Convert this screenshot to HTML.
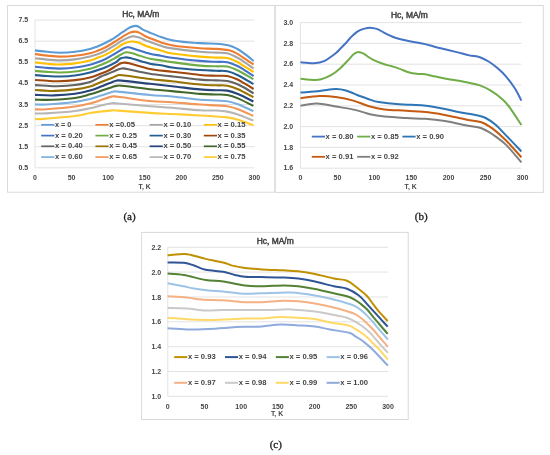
<!DOCTYPE html><html><head><meta charset="utf-8"><style>html,body{margin:0;padding:0;background:#fff;}svg{display:block;will-change:transform;filter:blur(0.45px);}text{font-family:"Liberation Sans",sans-serif;}</style></head><body>
<svg width="550" height="455" viewBox="0 0 550 455">
<rect width="550" height="455" fill="#fff"/>
<rect x="7.5" y="5.5" width="267.3" height="186.7" fill="#fff" stroke="#d9d9d9" stroke-width="1"/>
<line x1="35.0" y1="20.1" x2="254.4" y2="20.1" stroke="#e0e0e0" stroke-width="0.9"/>
<line x1="35.0" y1="41.2" x2="254.4" y2="41.2" stroke="#e0e0e0" stroke-width="0.9"/>
<line x1="35.0" y1="62.3" x2="254.4" y2="62.3" stroke="#e0e0e0" stroke-width="0.9"/>
<line x1="35.0" y1="83.4" x2="254.4" y2="83.4" stroke="#e0e0e0" stroke-width="0.9"/>
<line x1="35.0" y1="104.5" x2="254.4" y2="104.5" stroke="#e0e0e0" stroke-width="0.9"/>
<line x1="35.0" y1="125.6" x2="254.4" y2="125.6" stroke="#e0e0e0" stroke-width="0.9"/>
<line x1="35.0" y1="146.7" x2="254.4" y2="146.7" stroke="#e0e0e0" stroke-width="0.9"/>
<line x1="35.0" y1="167.8" x2="254.4" y2="167.8" stroke="#e0e0e0" stroke-width="0.9"/>
<line x1="35.0" y1="20.1" x2="35.0" y2="167.8" stroke="#e0e0e0" stroke-width="0.9"/>
<text x="28.2" y="22.1" font-size="7.00" text-anchor="end" fill="#444444" font-weight="bold">7.5</text>
<text x="28.2" y="43.2" font-size="7.00" text-anchor="end" fill="#444444" font-weight="bold">6.5</text>
<text x="28.2" y="64.3" font-size="7.00" text-anchor="end" fill="#444444" font-weight="bold">5.5</text>
<text x="28.2" y="85.4" font-size="7.00" text-anchor="end" fill="#444444" font-weight="bold">4.5</text>
<text x="28.2" y="106.5" font-size="7.00" text-anchor="end" fill="#444444" font-weight="bold">3.5</text>
<text x="28.2" y="127.6" font-size="7.00" text-anchor="end" fill="#444444" font-weight="bold">2.5</text>
<text x="28.2" y="148.7" font-size="7.00" text-anchor="end" fill="#444444" font-weight="bold">1.5</text>
<text x="28.2" y="169.8" font-size="7.00" text-anchor="end" fill="#444444" font-weight="bold">0.5</text>
<text x="35.0" y="180.0" font-size="7.00" text-anchor="middle" fill="#444444" font-weight="bold">0</text>
<text x="71.6" y="180.0" font-size="7.00" text-anchor="middle" fill="#444444" font-weight="bold">50</text>
<text x="108.1" y="180.0" font-size="7.00" text-anchor="middle" fill="#444444" font-weight="bold">100</text>
<text x="144.7" y="180.0" font-size="7.00" text-anchor="middle" fill="#444444" font-weight="bold">150</text>
<text x="181.3" y="180.0" font-size="7.00" text-anchor="middle" fill="#444444" font-weight="bold">200</text>
<text x="217.8" y="180.0" font-size="7.00" text-anchor="middle" fill="#444444" font-weight="bold">250</text>
<text x="254.4" y="180.0" font-size="7.00" text-anchor="middle" fill="#444444" font-weight="bold">300</text>
<text x="144.6" y="188.7" font-size="7.60" text-anchor="middle" fill="#444444" font-weight="bold" textLength="12.2" lengthAdjust="spacingAndGlyphs">T, K</text>
<text x="140.8" y="16.6" font-size="8.60" text-anchor="middle" fill="#444444" font-weight="normal" textLength="37.0" lengthAdjust="spacingAndGlyphs" stroke="#444444" stroke-width="0.50">Hc, MA/m</text>
<path d="M35.0 50.4 C37.0 50.6 42.8 51.4 47.0 51.8 C51.2 52.2 55.3 52.7 60.0 52.7 C64.7 52.7 70.0 52.4 75.0 51.8 C80.0 51.2 86.4 49.8 90.0 48.9 C93.6 48.0 94.2 47.7 96.8 46.7 C99.4 45.7 102.7 44.3 105.6 42.8 C108.5 41.3 111.6 39.7 114.4 37.9 C117.2 36.1 119.9 33.9 122.5 32.2 C125.1 30.5 127.6 28.6 129.8 27.5 C132.0 26.4 134.0 26.0 135.6 25.9 C137.2 25.8 138.1 26.5 139.3 27.1 C140.5 27.7 141.5 28.8 142.9 29.6 C144.3 30.4 146.8 31.3 148.0 31.8 C149.2 32.3 147.8 31.8 150.0 32.7 C152.2 33.6 157.3 35.7 161.0 37.0 C164.7 38.3 168.3 39.5 172.0 40.3 C175.7 41.1 179.3 41.5 183.0 41.9 C186.7 42.3 190.3 42.5 194.0 42.8 C197.7 43.0 201.3 43.2 205.0 43.4 C208.7 43.6 212.0 43.5 216.0 43.8 C220.0 44.1 225.5 44.6 229.0 45.4 C232.5 46.2 234.5 47.5 237.0 48.8 C239.5 50.1 241.2 51.4 244.0 53.4 C246.8 55.4 252.0 59.7 253.6 61.0" fill="none" stroke="#5B9BD5" stroke-width="2.10" stroke-linecap="butt" stroke-linejoin="round"/>
<path d="M35.0 54.0 C37.0 54.3 42.8 55.2 47.0 55.6 C51.2 56.0 55.3 56.6 60.0 56.6 C64.7 56.6 70.0 56.3 75.0 55.7 C80.0 55.1 86.4 54.0 90.0 53.2 C93.6 52.4 94.2 52.1 96.8 51.1 C99.4 50.1 102.7 48.7 105.6 47.2 C108.5 45.7 111.6 43.7 114.4 42.0 C117.2 40.3 119.9 38.4 122.5 36.8 C125.1 35.2 127.7 33.5 129.8 32.6 C131.9 31.7 133.3 31.6 134.9 31.6 C136.5 31.6 137.7 31.9 139.3 32.6 C140.9 33.3 142.7 34.9 144.5 35.8 C146.3 36.7 147.2 37.1 150.0 38.2 C152.8 39.3 157.3 41.2 161.0 42.4 C164.7 43.6 168.3 44.5 172.0 45.2 C175.7 45.9 178.3 46.3 183.0 46.8 C187.7 47.3 194.5 47.9 200.0 48.3 C205.5 48.6 211.2 48.6 216.0 48.9 C220.8 49.2 225.5 49.5 229.0 50.3 C232.5 51.1 234.5 52.3 237.0 53.6 C239.5 54.9 241.2 56.4 244.0 58.2 C246.8 60.0 252.0 63.5 253.6 64.5" fill="none" stroke="#ED7D31" stroke-width="2.10" stroke-linecap="butt" stroke-linejoin="round"/>
<path d="M35.0 58.2 C37.0 58.4 42.8 59.2 47.0 59.6 C51.2 60.0 55.3 60.4 60.0 60.4 C64.7 60.4 70.0 60.1 75.0 59.4 C80.0 58.7 86.4 57.2 90.0 56.4 C93.6 55.6 94.2 55.5 96.8 54.6 C99.4 53.7 102.7 52.2 105.6 50.7 C108.5 49.2 111.6 47.3 114.4 45.6 C117.2 43.9 119.9 41.9 122.5 40.4 C125.1 38.9 128.0 37.6 129.8 36.9 C131.6 36.2 131.9 36.1 133.5 36.2 C135.1 36.3 137.2 36.8 139.3 37.5 C141.4 38.2 144.2 39.9 146.0 40.6 C147.8 41.4 147.5 41.1 150.0 42.0 C152.5 42.9 157.3 44.7 161.0 45.8 C164.7 46.9 165.5 47.4 172.0 48.4 C178.5 49.4 192.7 51.0 200.0 51.7 C207.3 52.4 211.4 52.4 216.0 52.6 C220.6 52.9 223.8 52.4 227.3 53.2 C230.8 54.0 234.2 56.1 237.0 57.5 C239.8 58.9 241.2 60.0 244.0 61.8 C246.8 63.6 252.0 67.4 253.6 68.5" fill="none" stroke="#A5A5A5" stroke-width="2.10" stroke-linecap="butt" stroke-linejoin="round"/>
<path d="M35.0 62.4 C37.0 62.6 43.2 63.4 47.0 63.8 C50.8 64.1 53.3 64.6 58.0 64.5 C62.7 64.4 69.7 64.1 75.0 63.4 C80.3 62.7 86.4 61.3 90.0 60.4 C93.6 59.5 94.2 59.1 96.8 58.1 C99.4 57.1 102.7 56.0 105.6 54.6 C108.5 53.2 111.4 51.4 114.4 49.6 C117.4 47.8 120.6 45.1 123.4 43.8 C126.2 42.4 129.0 41.8 131.3 41.5 C133.7 41.2 135.1 41.6 137.5 42.3 C139.9 43.0 143.9 45.1 146.0 45.9 C148.1 46.7 147.5 46.4 150.0 47.2 C152.5 48.0 157.3 49.5 161.0 50.5 C164.7 51.5 165.5 52.5 172.0 53.5 C178.5 54.5 192.7 55.9 200.0 56.6 C207.3 57.3 211.4 57.4 216.0 57.6 C220.6 57.8 223.8 57.3 227.3 58.0 C230.8 58.7 234.2 60.4 237.0 61.8 C239.8 63.2 241.2 64.5 244.0 66.2 C246.8 67.9 252.0 71.0 253.6 72.0" fill="none" stroke="#FFC000" stroke-width="2.10" stroke-linecap="butt" stroke-linejoin="round"/>
<path d="M35.0 66.7 C37.0 66.9 42.8 67.6 47.0 67.9 C51.2 68.2 55.3 68.7 60.0 68.6 C64.7 68.5 70.0 68.2 75.0 67.5 C80.0 66.8 86.4 65.5 90.0 64.7 C93.6 63.9 94.2 63.5 96.8 62.5 C99.4 61.5 102.7 60.4 105.6 59.0 C108.5 57.6 111.4 55.8 114.4 54.0 C117.4 52.2 121.1 49.6 123.4 48.5 C125.8 47.4 126.4 47.1 128.5 47.3 C130.6 47.5 132.4 48.4 136.0 49.5 C139.6 50.6 145.8 52.8 150.0 53.8 C154.2 54.8 157.3 55.1 161.0 55.8 C164.7 56.4 165.5 56.9 172.0 57.7 C178.5 58.6 192.7 60.2 200.0 60.9 C207.3 61.6 211.4 61.6 216.0 61.8 C220.6 62.0 223.8 61.5 227.3 62.2 C230.8 62.9 234.2 64.5 237.0 65.8 C239.8 67.1 241.2 68.1 244.0 69.8 C246.8 71.5 252.0 75.0 253.6 76.0" fill="none" stroke="#4472C4" stroke-width="2.10" stroke-linecap="butt" stroke-linejoin="round"/>
<path d="M35.0 70.9 C37.0 71.1 42.8 71.6 47.0 71.9 C51.2 72.2 55.3 72.6 60.0 72.5 C64.7 72.4 70.0 72.1 75.0 71.5 C80.0 70.9 86.4 69.5 90.0 68.7 C93.6 67.9 94.2 67.5 96.8 66.5 C99.4 65.5 102.7 64.3 105.6 63.0 C108.5 61.6 111.4 60.0 114.4 58.4 C117.4 56.8 121.2 54.1 123.4 53.1 C125.6 52.1 125.4 52.1 127.5 52.3 C129.6 52.5 132.2 53.3 136.0 54.4 C139.8 55.5 145.8 57.8 150.0 58.8 C154.2 59.8 157.3 59.8 161.0 60.4 C164.7 61.0 165.5 61.2 172.0 62.1 C178.5 63.0 192.7 64.9 200.0 65.6 C207.3 66.3 211.4 66.2 216.0 66.3 C220.6 66.5 223.6 65.8 227.3 66.5 C231.0 67.2 233.7 68.4 238.0 70.5 C242.3 72.6 250.8 77.8 253.4 79.2" fill="none" stroke="#70AD47" stroke-width="2.10" stroke-linecap="butt" stroke-linejoin="round"/>
<path d="M35.0 75.1 C37.0 75.2 42.8 75.8 47.0 76.0 C51.2 76.2 55.3 76.6 60.0 76.5 C64.7 76.4 70.0 76.2 75.0 75.5 C80.0 74.8 85.7 73.6 90.0 72.5 C94.3 71.4 98.0 70.0 101.0 69.0 C104.0 68.0 105.5 67.3 108.0 66.2 C110.5 65.1 113.7 63.7 115.7 62.4 C117.8 61.1 118.8 59.3 120.3 58.5 C121.8 57.7 123.4 57.6 125.0 57.5 C126.6 57.4 125.8 57.0 130.0 58.0 C134.2 59.0 144.8 62.6 150.0 63.8 C155.2 65.0 157.3 64.6 161.0 65.2 C164.7 65.8 165.5 66.7 172.0 67.5 C178.5 68.3 192.7 69.5 200.0 70.0 C207.3 70.5 211.4 70.6 216.0 70.8 C220.6 71.0 223.6 70.5 227.3 71.2 C231.0 71.9 233.7 73.1 238.0 75.2 C242.3 77.3 250.8 82.6 253.4 84.1" fill="none" stroke="#255E91" stroke-width="2.10" stroke-linecap="butt" stroke-linejoin="round"/>
<path d="M35.0 80.0 C37.0 80.1 43.2 80.6 47.0 80.8 C50.8 81.0 53.3 81.3 58.0 81.2 C62.7 81.1 69.7 80.7 75.0 80.1 C80.3 79.5 85.7 78.6 90.0 77.5 C94.3 76.4 98.0 74.6 101.0 73.5 C104.0 72.4 105.5 72.0 108.0 70.8 C110.5 69.6 113.7 67.4 115.7 66.2 C117.8 65.0 119.0 64.1 120.3 63.5 C121.6 62.9 122.0 62.7 123.5 62.7 C125.0 62.7 124.6 62.2 129.0 63.3 C133.4 64.3 142.8 67.6 150.0 69.0 C157.2 70.4 163.7 70.7 172.0 71.7 C180.3 72.7 192.7 74.3 200.0 75.0 C207.3 75.7 211.4 75.5 216.0 75.7 C220.6 75.9 223.8 75.4 227.3 76.0 C230.8 76.6 234.2 78.0 237.0 79.2 C239.8 80.4 241.2 81.6 244.0 83.2 C246.8 84.8 252.0 88.0 253.6 89.0" fill="none" stroke="#9E480E" stroke-width="2.10" stroke-linecap="butt" stroke-linejoin="round"/>
<path d="M35.0 85.1 C37.0 85.2 43.3 85.6 47.0 85.8 C50.7 86.0 52.3 86.3 57.0 86.2 C61.7 86.1 69.5 85.7 75.0 85.0 C80.5 84.3 85.7 83.4 90.0 82.0 C94.3 80.6 98.0 77.9 101.0 76.5 C104.0 75.1 105.5 74.8 108.0 73.8 C110.5 72.8 113.4 71.3 115.7 70.4 C118.0 69.5 120.1 68.7 122.0 68.5 C123.9 68.3 122.3 68.1 127.0 69.0 C131.7 69.9 142.5 72.6 150.0 73.8 C157.5 75.0 163.7 75.4 172.0 76.4 C180.3 77.4 192.7 78.9 200.0 79.6 C207.3 80.3 211.4 80.2 216.0 80.4 C220.6 80.6 223.8 80.4 227.3 81.0 C230.8 81.6 234.2 82.9 237.0 84.0 C239.8 85.1 241.2 85.9 244.0 87.5 C246.8 89.1 252.0 92.4 253.6 93.4" fill="none" stroke="#636363" stroke-width="2.10" stroke-linecap="butt" stroke-linejoin="round"/>
<path d="M35.0 90.0 C36.7 90.1 41.7 90.4 45.0 90.6 C48.3 90.8 50.0 91.1 55.0 90.9 C60.0 90.7 69.2 90.1 75.0 89.4 C80.8 88.7 85.7 87.7 90.0 86.5 C94.3 85.3 97.4 83.4 101.0 82.0 C104.6 80.6 109.1 79.1 111.8 78.0 C114.5 76.9 115.5 75.9 117.3 75.4 C119.1 74.9 117.2 74.6 122.7 75.2 C128.2 75.8 141.8 78.0 150.0 79.0 C158.2 80.0 163.7 80.4 172.0 81.3 C180.3 82.2 192.7 83.8 200.0 84.5 C207.3 85.2 211.4 85.1 216.0 85.3 C220.6 85.5 223.6 85.0 227.3 85.7 C231.0 86.4 233.7 87.4 238.0 89.3 C242.3 91.2 250.8 95.9 253.4 97.2" fill="none" stroke="#997300" stroke-width="2.10" stroke-linecap="butt" stroke-linejoin="round"/>
<path d="M35.0 94.9 C38.2 95.0 47.3 95.6 54.0 95.4 C60.7 95.2 69.0 94.6 75.0 93.8 C81.0 93.0 85.7 91.8 90.0 90.6 C94.3 89.4 97.4 87.9 101.0 86.5 C104.6 85.1 109.3 83.2 111.8 82.3 C114.3 81.3 114.6 81.1 116.2 80.8 C117.8 80.5 116.0 80.1 121.6 80.6 C127.2 81.1 141.6 82.9 150.0 83.8 C158.4 84.7 163.7 85.3 172.0 86.2 C180.3 87.1 192.7 88.7 200.0 89.4 C207.3 90.1 211.4 90.0 216.0 90.2 C220.6 90.4 223.6 90.0 227.3 90.6 C231.0 91.2 233.7 92.2 238.0 94.0 C242.3 95.8 250.8 100.2 253.4 101.5" fill="none" stroke="#264478" stroke-width="2.10" stroke-linecap="butt" stroke-linejoin="round"/>
<path d="M35.0 99.6 C37.8 99.6 45.3 100.1 52.0 99.8 C58.7 99.5 68.7 98.9 75.0 98.0 C81.3 97.1 85.7 95.5 90.0 94.3 C94.3 93.1 97.4 92.0 101.0 90.8 C104.6 89.6 109.3 88.0 111.8 87.2 C114.3 86.4 114.5 86.1 116.2 85.9 C117.9 85.7 116.4 85.2 122.0 85.8 C127.6 86.3 141.7 88.3 150.0 89.2 C158.3 90.1 163.7 90.3 172.0 91.1 C180.3 91.9 192.7 93.3 200.0 93.9 C207.3 94.5 211.4 94.3 216.0 94.5 C220.6 94.7 223.6 94.3 227.3 95.0 C231.0 95.7 233.7 96.6 238.0 98.4 C242.3 100.2 250.8 104.7 253.4 105.9" fill="none" stroke="#43682B" stroke-width="2.10" stroke-linecap="butt" stroke-linejoin="round"/>
<path d="M35.0 104.4 C36.8 104.4 39.3 104.9 46.0 104.5 C52.7 104.1 67.7 102.9 75.0 102.0 C82.3 101.1 85.7 100.1 90.0 99.0 C94.3 97.9 97.2 96.7 101.0 95.5 C104.8 94.3 110.1 92.5 112.9 91.8 C115.7 91.1 111.8 91.1 118.0 91.6 C124.2 92.1 141.0 94.2 150.0 95.0 C159.0 95.8 163.7 95.7 172.0 96.5 C180.3 97.3 192.7 99.0 200.0 99.7 C207.3 100.4 211.4 100.2 216.0 100.5 C220.6 100.8 223.6 100.6 227.3 101.2 C231.0 101.8 233.7 102.7 238.0 104.3 C242.3 105.9 250.8 110.0 253.4 111.1" fill="none" stroke="#7CAFDD" stroke-width="2.10" stroke-linecap="butt" stroke-linejoin="round"/>
<path d="M35.0 109.3 C36.8 109.3 39.3 109.8 46.0 109.3 C52.7 108.8 67.7 107.5 75.0 106.5 C82.3 105.5 85.7 104.6 90.0 103.5 C94.3 102.4 97.4 101.2 101.0 100.0 C104.6 98.8 109.0 97.1 111.8 96.6 C114.6 96.1 111.6 96.1 118.0 96.8 C124.4 97.5 141.0 100.1 150.0 101.0 C159.0 101.9 163.7 101.6 172.0 102.2 C180.3 102.8 192.7 104.0 200.0 104.5 C207.3 105.0 211.4 105.1 216.0 105.4 C220.6 105.7 223.6 105.6 227.3 106.2 C231.0 106.8 233.7 107.6 238.0 109.2 C242.3 110.8 250.8 114.8 253.4 115.9" fill="none" stroke="#F1975A" stroke-width="2.10" stroke-linecap="butt" stroke-linejoin="round"/>
<path d="M35.0 113.4 C36.8 113.4 39.3 113.8 46.0 113.4 C52.7 113.0 67.7 111.9 75.0 111.0 C82.3 110.1 85.7 109.1 90.0 108.2 C94.3 107.3 97.4 106.3 101.0 105.5 C104.6 104.7 109.0 103.6 111.8 103.3 C114.6 103.0 111.6 103.0 118.0 103.5 C124.4 104.0 141.0 105.5 150.0 106.2 C159.0 106.9 163.7 107.1 172.0 107.8 C180.3 108.5 192.7 109.8 200.0 110.3 C207.3 110.8 211.4 110.3 216.0 110.5 C220.6 110.7 223.6 110.9 227.3 111.6 C231.0 112.3 233.7 113.0 238.0 114.5 C242.3 116.0 250.8 119.6 253.4 120.6" fill="none" stroke="#B7B7B7" stroke-width="2.10" stroke-linecap="butt" stroke-linejoin="round"/>
<path d="M35.0 118.9 C36.3 118.9 36.3 119.4 43.0 118.9 C49.7 118.4 67.2 117.0 75.0 116.0 C82.8 115.0 85.7 113.8 90.0 113.0 C94.3 112.2 97.4 111.9 101.0 111.5 C104.6 111.1 109.0 110.6 111.8 110.4 C114.6 110.2 111.6 110.2 118.0 110.6 C124.4 111.0 141.0 112.3 150.0 112.9 C159.0 113.5 163.7 113.6 172.0 114.0 C180.3 114.4 192.7 115.1 200.0 115.5 C207.3 115.9 211.4 116.2 216.0 116.5 C220.6 116.8 223.6 116.9 227.3 117.4 C231.0 118.0 233.7 118.5 238.0 119.8 C242.3 121.1 250.8 124.4 253.4 125.3" fill="none" stroke="#FFCD33" stroke-width="2.10" stroke-linecap="butt" stroke-linejoin="round"/>
<line x1="41.2" y1="124.8" x2="54.4" y2="124.8" stroke="#5B9BD5" stroke-width="1.70"/>
<text x="55.0" y="126.8" font-size="7.80" text-anchor="start" fill="#444444" font-weight="bold" textLength="16.4" lengthAdjust="spacingAndGlyphs">x = 0</text>
<line x1="95.4" y1="124.8" x2="108.6" y2="124.8" stroke="#ED7D31" stroke-width="1.70"/>
<text x="109.2" y="126.8" font-size="7.80" text-anchor="start" fill="#444444" font-weight="bold" textLength="25.8" lengthAdjust="spacingAndGlyphs">x =0.05</text>
<line x1="149.6" y1="124.8" x2="162.8" y2="124.8" stroke="#A5A5A5" stroke-width="1.70"/>
<text x="163.4" y="126.8" font-size="7.80" text-anchor="start" fill="#444444" font-weight="bold" textLength="27.8" lengthAdjust="spacingAndGlyphs">x = 0.10</text>
<line x1="203.8" y1="124.8" x2="217.0" y2="124.8" stroke="#FFC000" stroke-width="1.70"/>
<text x="217.6" y="126.8" font-size="7.80" text-anchor="start" fill="#444444" font-weight="bold" textLength="27.8" lengthAdjust="spacingAndGlyphs">x = 0.15</text>
<line x1="41.2" y1="135.6" x2="54.4" y2="135.6" stroke="#4472C4" stroke-width="1.70"/>
<text x="55.0" y="137.6" font-size="7.80" text-anchor="start" fill="#444444" font-weight="bold" textLength="27.8" lengthAdjust="spacingAndGlyphs">x = 0.20</text>
<line x1="95.4" y1="135.6" x2="108.6" y2="135.6" stroke="#70AD47" stroke-width="1.70"/>
<text x="109.2" y="137.6" font-size="7.80" text-anchor="start" fill="#444444" font-weight="bold" textLength="27.8" lengthAdjust="spacingAndGlyphs">x = 0.25</text>
<line x1="149.6" y1="135.6" x2="162.8" y2="135.6" stroke="#255E91" stroke-width="1.70"/>
<text x="163.4" y="137.6" font-size="7.80" text-anchor="start" fill="#444444" font-weight="bold" textLength="27.8" lengthAdjust="spacingAndGlyphs">x = 0.30</text>
<line x1="203.8" y1="135.6" x2="217.0" y2="135.6" stroke="#9E480E" stroke-width="1.70"/>
<text x="217.6" y="137.6" font-size="7.80" text-anchor="start" fill="#444444" font-weight="bold" textLength="27.8" lengthAdjust="spacingAndGlyphs">x = 0.35</text>
<line x1="41.2" y1="146.3" x2="54.4" y2="146.3" stroke="#636363" stroke-width="1.70"/>
<text x="55.0" y="148.3" font-size="7.80" text-anchor="start" fill="#444444" font-weight="bold" textLength="27.8" lengthAdjust="spacingAndGlyphs">x = 0.40</text>
<line x1="95.4" y1="146.3" x2="108.6" y2="146.3" stroke="#997300" stroke-width="1.70"/>
<text x="109.2" y="148.3" font-size="7.80" text-anchor="start" fill="#444444" font-weight="bold" textLength="27.8" lengthAdjust="spacingAndGlyphs">x = 0.45</text>
<line x1="149.6" y1="146.3" x2="162.8" y2="146.3" stroke="#264478" stroke-width="1.70"/>
<text x="163.4" y="148.3" font-size="7.80" text-anchor="start" fill="#444444" font-weight="bold" textLength="27.8" lengthAdjust="spacingAndGlyphs">x = 0.50</text>
<line x1="203.8" y1="146.3" x2="217.0" y2="146.3" stroke="#43682B" stroke-width="1.70"/>
<text x="217.6" y="148.3" font-size="7.80" text-anchor="start" fill="#444444" font-weight="bold" textLength="27.8" lengthAdjust="spacingAndGlyphs">x = 0.55</text>
<line x1="41.2" y1="157.1" x2="54.4" y2="157.1" stroke="#7CAFDD" stroke-width="1.70"/>
<text x="55.0" y="159.1" font-size="7.80" text-anchor="start" fill="#444444" font-weight="bold" textLength="27.8" lengthAdjust="spacingAndGlyphs">x = 0.60</text>
<line x1="95.4" y1="157.1" x2="108.6" y2="157.1" stroke="#F1975A" stroke-width="1.70"/>
<text x="109.2" y="159.1" font-size="7.80" text-anchor="start" fill="#444444" font-weight="bold" textLength="27.8" lengthAdjust="spacingAndGlyphs">x = 0.65</text>
<line x1="149.6" y1="157.1" x2="162.8" y2="157.1" stroke="#B7B7B7" stroke-width="1.70"/>
<text x="163.4" y="159.1" font-size="7.80" text-anchor="start" fill="#444444" font-weight="bold" textLength="27.8" lengthAdjust="spacingAndGlyphs">x = 0.70</text>
<line x1="203.8" y1="157.1" x2="217.0" y2="157.1" stroke="#FFCD33" stroke-width="1.70"/>
<text x="217.6" y="159.1" font-size="7.80" text-anchor="start" fill="#444444" font-weight="bold" textLength="27.8" lengthAdjust="spacingAndGlyphs">x = 0.75</text>
<rect x="275.3" y="5.5" width="268.0" height="186.9" fill="#fff" stroke="#d9d9d9" stroke-width="1"/>
<line x1="300.5" y1="22.6" x2="521.5" y2="22.6" stroke="#e0e0e0" stroke-width="0.9"/>
<line x1="300.5" y1="43.4" x2="521.5" y2="43.4" stroke="#e0e0e0" stroke-width="0.9"/>
<line x1="300.5" y1="64.2" x2="521.5" y2="64.2" stroke="#e0e0e0" stroke-width="0.9"/>
<line x1="300.5" y1="85.0" x2="521.5" y2="85.0" stroke="#e0e0e0" stroke-width="0.9"/>
<line x1="300.5" y1="105.8" x2="521.5" y2="105.8" stroke="#e0e0e0" stroke-width="0.9"/>
<line x1="300.5" y1="126.6" x2="521.5" y2="126.6" stroke="#e0e0e0" stroke-width="0.9"/>
<line x1="300.5" y1="147.4" x2="521.5" y2="147.4" stroke="#e0e0e0" stroke-width="0.9"/>
<line x1="300.5" y1="168.2" x2="521.5" y2="168.2" stroke="#e0e0e0" stroke-width="0.9"/>
<line x1="300.5" y1="22.6" x2="300.5" y2="168.2" stroke="#e0e0e0" stroke-width="0.9"/>
<text x="293.2" y="24.8" font-size="7.00" text-anchor="end" fill="#444444" font-weight="bold">3.0</text>
<text x="293.2" y="45.6" font-size="7.00" text-anchor="end" fill="#444444" font-weight="bold">2.8</text>
<text x="293.2" y="66.4" font-size="7.00" text-anchor="end" fill="#444444" font-weight="bold">2.6</text>
<text x="293.2" y="87.2" font-size="7.00" text-anchor="end" fill="#444444" font-weight="bold">2.4</text>
<text x="293.2" y="108.0" font-size="7.00" text-anchor="end" fill="#444444" font-weight="bold">2.2</text>
<text x="293.2" y="128.8" font-size="7.00" text-anchor="end" fill="#444444" font-weight="bold">2.0</text>
<text x="293.2" y="149.6" font-size="7.00" text-anchor="end" fill="#444444" font-weight="bold">1.8</text>
<text x="293.2" y="170.4" font-size="7.00" text-anchor="end" fill="#444444" font-weight="bold">1.6</text>
<text x="300.4" y="180.2" font-size="7.00" text-anchor="middle" fill="#444444" font-weight="bold">0</text>
<text x="337.4" y="180.2" font-size="7.00" text-anchor="middle" fill="#444444" font-weight="bold">50</text>
<text x="374.4" y="180.2" font-size="7.00" text-anchor="middle" fill="#444444" font-weight="bold">100</text>
<text x="411.4" y="180.2" font-size="7.00" text-anchor="middle" fill="#444444" font-weight="bold">150</text>
<text x="448.5" y="180.2" font-size="7.00" text-anchor="middle" fill="#444444" font-weight="bold">200</text>
<text x="485.5" y="180.2" font-size="7.00" text-anchor="middle" fill="#444444" font-weight="bold">250</text>
<text x="522.5" y="180.2" font-size="7.00" text-anchor="middle" fill="#444444" font-weight="bold">300</text>
<text x="410.7" y="188.7" font-size="7.60" text-anchor="middle" fill="#444444" font-weight="bold" textLength="12.2" lengthAdjust="spacingAndGlyphs">T, K</text>
<text x="409.4" y="18.0" font-size="8.60" text-anchor="middle" fill="#444444" font-weight="normal" textLength="37.0" lengthAdjust="spacingAndGlyphs" stroke="#444444" stroke-width="0.50">Hc, MA/m</text>
<path d="M300.5 62.3 C302.7 62.5 310.0 63.5 313.9 63.3 C317.8 63.1 320.5 62.9 324.1 61.2 C327.7 59.5 333.1 55.3 335.7 53.3 C338.3 51.3 338.3 50.7 340.0 49.0 C341.7 47.3 344.2 44.8 345.9 43.0 C347.6 41.2 348.1 40.1 350.0 38.2 C351.9 36.3 354.9 33.2 357.3 31.6 C359.7 30.0 362.1 29.2 364.5 28.6 C366.9 28.0 369.6 27.8 371.8 27.9 C374.0 28.0 375.7 28.4 377.6 29.1 C379.6 29.9 381.4 31.3 383.5 32.4 C385.6 33.5 387.9 34.7 390.0 35.6 C392.1 36.5 393.3 37.2 396.0 38.0 C398.7 38.8 403.5 39.9 406.4 40.5 C409.3 41.1 410.5 41.3 413.6 41.9 C416.8 42.5 421.7 43.2 425.3 44.1 C428.9 45.0 432.2 46.1 435.5 47.0 C438.8 47.9 441.5 48.4 445.0 49.2 C448.5 50.1 452.5 51.1 456.6 52.1 C460.7 53.1 465.8 54.5 469.7 55.4 C473.6 56.2 476.8 56.2 479.9 57.2 C483.0 58.2 485.7 59.7 488.6 61.5 C491.5 63.3 494.5 65.6 497.4 68.1 C500.3 70.6 503.2 73.2 506.1 76.6 C509.0 80.0 512.2 84.3 514.8 88.3 C517.3 92.3 520.3 98.5 521.4 100.6" fill="none" stroke="#4472C4" stroke-width="2.00" stroke-linecap="butt" stroke-linejoin="round"/>
<path d="M300.5 78.8 C302.7 79.0 310.4 79.9 313.9 80.0 C317.3 80.1 318.3 80.1 321.2 79.3 C324.1 78.5 327.9 77.0 331.0 75.2 C334.1 73.4 337.1 71.0 340.0 68.4 C342.9 65.8 346.5 61.9 348.7 59.6 C350.9 57.3 351.6 56.0 353.0 54.7 C354.4 53.5 356.1 52.5 357.4 52.1 C358.7 51.8 359.9 52.3 361.0 52.6 C362.1 52.9 362.8 53.1 364.0 53.8 C365.2 54.5 367.1 56.0 368.5 57.0 C369.9 58.0 370.2 58.4 372.7 59.6 C375.2 60.8 380.4 62.9 383.6 64.0 C386.8 65.1 389.2 65.4 391.8 66.2 C394.4 67.0 396.2 67.5 399.1 68.6 C402.0 69.6 406.2 71.6 409.3 72.5 C412.4 73.4 415.3 73.6 418.0 73.9 C420.7 74.2 422.4 73.8 425.3 74.2 C428.2 74.7 431.4 75.7 435.5 76.6 C439.6 77.5 445.3 78.7 450.0 79.5 C454.7 80.3 458.9 80.7 463.9 81.7 C468.9 82.7 475.3 83.8 479.9 85.4 C484.5 87.0 487.6 88.8 491.5 91.2 C495.4 93.6 500.0 97.0 503.2 99.9 C506.4 102.8 507.5 104.4 510.5 108.6 C513.5 112.8 519.6 122.3 521.4 125.0" fill="none" stroke="#70AD47" stroke-width="2.00" stroke-linecap="butt" stroke-linejoin="round"/>
<path d="M300.5 92.6 C303.7 92.3 313.8 91.5 319.7 90.9 C325.6 90.3 331.3 89.1 335.7 89.0 C340.1 88.9 341.8 89.3 345.9 90.5 C350.0 91.7 356.5 94.8 360.5 96.3 C364.5 97.8 367.0 98.6 370.0 99.6 C373.0 100.6 373.8 101.3 378.7 102.1 C383.6 102.9 391.6 103.8 399.1 104.3 C406.6 104.8 417.7 104.9 423.8 105.4 C429.9 105.9 432.0 106.6 435.5 107.2 C439.0 107.8 441.0 108.2 445.0 109.0 C449.0 109.8 454.2 111.2 459.5 112.2 C464.8 113.2 472.6 114.3 477.0 115.3 C481.4 116.3 482.6 116.4 485.7 118.0 C488.8 119.6 492.3 121.8 495.9 125.0 C499.5 128.2 503.2 132.5 507.5 136.9 C511.8 141.3 519.1 149.1 521.4 151.5" fill="none" stroke="#2E75B6" stroke-width="2.00" stroke-linecap="butt" stroke-linejoin="round"/>
<path d="M300.5 98.2 C303.7 97.8 313.8 96.2 319.7 96.0 C325.6 95.8 330.1 96.2 335.7 97.0 C341.3 97.8 347.5 99.0 353.2 100.6 C358.9 102.2 364.8 105.0 370.0 106.5 C375.2 108.0 378.4 108.7 384.5 109.4 C390.6 110.1 399.1 110.3 406.4 110.8 C413.7 111.3 421.8 111.6 428.2 112.3 C434.6 113.0 438.6 113.8 445.0 115.0 C451.4 116.2 460.7 118.5 466.8 119.7 C472.9 120.9 477.0 120.7 481.4 122.2 C485.8 123.7 488.9 125.9 493.0 128.9 C497.1 132.0 501.4 135.8 506.1 140.5 C510.8 145.2 518.9 154.5 521.4 157.3" fill="none" stroke="#C55A11" stroke-width="2.00" stroke-linecap="butt" stroke-linejoin="round"/>
<path d="M300.5 105.7 C303.2 105.3 310.9 103.4 316.8 103.5 C322.7 103.6 329.1 105.4 335.7 106.5 C342.2 107.6 350.4 108.8 356.1 110.1 C361.8 111.4 365.3 113.1 370.0 114.2 C374.7 115.3 378.4 115.9 384.5 116.6 C390.6 117.2 399.6 117.7 406.4 118.1 C413.2 118.5 418.9 118.3 425.3 118.8 C431.7 119.3 438.1 120.0 445.0 121.1 C451.9 122.2 460.7 124.3 466.8 125.5 C472.9 126.7 477.0 126.7 481.4 128.2 C485.8 129.7 488.9 131.9 493.0 134.7 C497.1 137.5 501.4 140.3 506.1 144.9 C510.8 149.5 518.9 159.5 521.4 162.4" fill="none" stroke="#7F7F7F" stroke-width="2.00" stroke-linecap="butt" stroke-linejoin="round"/>
<line x1="311.8" y1="136.6" x2="325.0" y2="136.6" stroke="#4472C4" stroke-width="1.80"/>
<text x="325.6" y="138.6" font-size="7.80" text-anchor="start" fill="#444444" font-weight="bold" textLength="27.8" lengthAdjust="spacingAndGlyphs">x = 0.80</text>
<line x1="357.1" y1="136.6" x2="370.3" y2="136.6" stroke="#70AD47" stroke-width="1.80"/>
<text x="370.9" y="138.6" font-size="7.80" text-anchor="start" fill="#444444" font-weight="bold" textLength="27.8" lengthAdjust="spacingAndGlyphs">x = 0.85</text>
<line x1="402.4" y1="136.6" x2="415.6" y2="136.6" stroke="#2E75B6" stroke-width="1.80"/>
<text x="416.2" y="138.6" font-size="7.80" text-anchor="start" fill="#444444" font-weight="bold" textLength="27.8" lengthAdjust="spacingAndGlyphs">x = 0.90</text>
<line x1="311.8" y1="156.8" x2="325.0" y2="156.8" stroke="#C55A11" stroke-width="1.80"/>
<text x="325.6" y="158.8" font-size="7.80" text-anchor="start" fill="#444444" font-weight="bold" textLength="27.8" lengthAdjust="spacingAndGlyphs">x = 0.91</text>
<line x1="357.1" y1="156.8" x2="370.3" y2="156.8" stroke="#7F7F7F" stroke-width="1.80"/>
<text x="370.9" y="158.8" font-size="7.80" text-anchor="start" fill="#444444" font-weight="bold" textLength="27.8" lengthAdjust="spacingAndGlyphs">x = 0.92</text>
<rect x="141.6" y="232.4" width="266.6" height="187.1" fill="#fff" stroke="#d9d9d9" stroke-width="1"/>
<line x1="167.8" y1="247.3" x2="388.0" y2="247.3" stroke="#e0e0e0" stroke-width="0.9"/>
<line x1="167.8" y1="272.1" x2="388.0" y2="272.1" stroke="#e0e0e0" stroke-width="0.9"/>
<line x1="167.8" y1="297.0" x2="388.0" y2="297.0" stroke="#e0e0e0" stroke-width="0.9"/>
<line x1="167.8" y1="321.8" x2="388.0" y2="321.8" stroke="#e0e0e0" stroke-width="0.9"/>
<line x1="167.8" y1="346.7" x2="388.0" y2="346.7" stroke="#e0e0e0" stroke-width="0.9"/>
<line x1="167.8" y1="371.5" x2="388.0" y2="371.5" stroke="#e0e0e0" stroke-width="0.9"/>
<line x1="167.8" y1="396.3" x2="388.0" y2="396.3" stroke="#e0e0e0" stroke-width="0.9"/>
<line x1="167.8" y1="247.3" x2="167.8" y2="396.3" stroke="#e0e0e0" stroke-width="0.9"/>
<text x="161.2" y="249.8" font-size="7.00" text-anchor="end" fill="#444444" font-weight="bold">2.2</text>
<text x="161.2" y="274.6" font-size="7.00" text-anchor="end" fill="#444444" font-weight="bold">2.0</text>
<text x="161.2" y="299.5" font-size="7.00" text-anchor="end" fill="#444444" font-weight="bold">1.8</text>
<text x="161.2" y="324.3" font-size="7.00" text-anchor="end" fill="#444444" font-weight="bold">1.6</text>
<text x="161.2" y="349.2" font-size="7.00" text-anchor="end" fill="#444444" font-weight="bold">1.4</text>
<text x="161.2" y="374.0" font-size="7.00" text-anchor="end" fill="#444444" font-weight="bold">1.2</text>
<text x="161.2" y="398.8" font-size="7.00" text-anchor="end" fill="#444444" font-weight="bold">1.0</text>
<text x="167.8" y="408.6" font-size="7.00" text-anchor="middle" fill="#444444" font-weight="bold">0</text>
<text x="204.5" y="408.6" font-size="7.00" text-anchor="middle" fill="#444444" font-weight="bold">50</text>
<text x="241.2" y="408.6" font-size="7.00" text-anchor="middle" fill="#444444" font-weight="bold">100</text>
<text x="277.9" y="408.6" font-size="7.00" text-anchor="middle" fill="#444444" font-weight="bold">150</text>
<text x="314.6" y="408.6" font-size="7.00" text-anchor="middle" fill="#444444" font-weight="bold">200</text>
<text x="351.3" y="408.6" font-size="7.00" text-anchor="middle" fill="#444444" font-weight="bold">250</text>
<text x="388.0" y="408.6" font-size="7.00" text-anchor="middle" fill="#444444" font-weight="bold">300</text>
<text x="277.0" y="415.8" font-size="7.60" text-anchor="middle" fill="#444444" font-weight="bold" textLength="12.2" lengthAdjust="spacingAndGlyphs">T, K</text>
<text x="275.2" y="244.2" font-size="8.60" text-anchor="middle" fill="#444444" font-weight="normal" textLength="37.0" lengthAdjust="spacingAndGlyphs" stroke="#444444" stroke-width="0.50">Hc, MA/m</text>
<path d="M167.6 255.3 C170.3 255.1 180.0 254.2 183.9 254.1 C187.8 254.0 187.6 254.2 191.2 255.0 C194.8 255.8 200.4 257.6 205.7 258.9 C211.0 260.1 218.6 261.3 223.2 262.5 C227.8 263.7 229.8 265.0 233.4 265.9 C237.0 266.8 240.3 267.3 245.0 267.9 C249.7 268.5 255.4 269.0 261.8 269.4 C268.2 269.8 277.5 270.0 283.6 270.3 C289.7 270.6 293.0 270.7 298.2 271.3 C303.4 271.9 309.1 272.7 315.0 273.9 C320.9 275.1 328.6 277.4 333.9 278.5 C339.2 279.6 343.3 279.3 347.0 280.7 C350.7 282.1 352.8 284.3 356.0 286.8 C359.2 289.3 363.6 292.6 366.5 295.5 C369.4 298.4 371.0 301.4 373.1 304.1 C375.2 306.8 376.8 309.1 379.2 311.9 C381.6 314.7 386.3 319.5 387.7 321.0" fill="none" stroke="#BF9000" stroke-width="2.00" stroke-linecap="butt" stroke-linejoin="round"/>
<path d="M167.6 262.5 C170.3 262.6 179.5 262.3 183.9 262.8 C188.3 263.3 190.5 264.3 194.1 265.5 C197.7 266.7 200.8 268.8 205.7 269.8 C210.5 270.8 218.3 270.9 223.2 271.7 C228.0 272.5 231.2 274.1 234.8 274.9 C238.4 275.7 240.5 276.3 245.0 276.7 C249.5 277.1 255.4 277.0 261.8 277.1 C268.2 277.2 277.5 277.3 283.6 277.5 C289.7 277.7 293.0 277.8 298.2 278.5 C303.4 279.2 309.1 280.2 315.0 281.5 C320.9 282.8 328.6 285.1 333.9 286.3 C339.2 287.5 342.9 287.2 347.0 288.7 C351.1 290.2 355.2 292.7 358.6 295.3 C362.0 297.9 364.7 301.5 367.1 304.1 C369.5 306.7 371.1 308.5 373.1 310.7 C375.1 312.9 376.8 314.7 379.2 317.4 C381.6 320.1 386.3 325.1 387.7 326.7" fill="none" stroke="#2F5597" stroke-width="2.00" stroke-linecap="butt" stroke-linejoin="round"/>
<path d="M167.6 273.5 C170.3 273.7 177.6 273.8 183.9 274.9 C190.2 276.0 199.1 278.9 205.7 280.0 C212.2 281.1 216.6 280.6 223.2 281.5 C229.8 282.4 238.6 284.6 245.0 285.4 C251.4 286.2 255.4 286.3 261.8 286.3 C268.2 286.3 277.5 285.4 283.6 285.4 C289.7 285.4 293.0 285.7 298.2 286.3 C303.4 286.9 308.6 287.7 315.0 289.0 C321.4 290.3 331.5 292.7 336.8 293.9 C342.1 295.1 344.0 295.2 347.0 296.2 C350.0 297.2 352.7 298.5 355.0 299.8 C357.3 301.1 359.0 302.5 361.0 304.1 C363.0 305.7 365.1 307.4 367.1 309.5 C369.1 311.6 371.1 314.4 373.1 316.8 C375.1 319.2 376.8 321.1 379.2 324.0 C381.6 326.9 386.3 332.2 387.7 333.9" fill="none" stroke="#548235" stroke-width="2.00" stroke-linecap="butt" stroke-linejoin="round"/>
<path d="M167.6 283.3 C170.3 283.8 179.5 285.4 183.9 286.3 C188.3 287.2 190.0 287.9 194.1 288.6 C198.2 289.3 203.8 290.0 208.6 290.5 C213.4 291.0 217.1 290.9 223.2 291.4 C229.3 291.9 238.6 293.4 245.0 293.7 C251.4 294.0 254.2 293.5 261.8 293.3 C269.4 293.1 282.0 292.1 290.9 292.5 C299.8 292.9 307.4 294.2 315.0 295.5 C322.6 296.8 331.5 299.0 336.8 300.3 C342.1 301.6 344.0 302.2 347.0 303.2 C350.0 304.2 352.7 305.0 355.0 306.1 C357.3 307.2 359.0 308.5 361.0 310.1 C363.0 311.7 365.1 313.6 367.1 315.6 C369.1 317.6 371.1 319.9 373.1 322.2 C375.1 324.5 376.7 326.6 379.2 329.5 C381.7 332.4 386.4 337.8 387.9 339.5" fill="none" stroke="#9DC3E6" stroke-width="2.00" stroke-linecap="butt" stroke-linejoin="round"/>
<path d="M167.6 296.3 C170.8 296.5 181.2 296.9 186.8 297.4 C192.4 297.9 195.3 299.0 201.4 299.5 C207.5 300.0 215.9 299.9 223.2 300.3 C230.5 300.8 238.6 301.9 245.0 302.2 C251.4 302.5 255.4 302.4 261.8 302.2 C268.2 301.9 277.5 300.8 283.6 300.7 C289.7 300.6 293.0 300.8 298.2 301.3 C303.4 301.8 308.6 302.4 315.0 303.6 C321.4 304.8 331.5 307.0 336.8 308.3 C342.1 309.6 344.0 310.2 347.0 311.2 C350.0 312.2 352.7 313.0 355.0 314.1 C357.3 315.2 359.0 316.4 361.0 318.0 C363.0 319.6 365.1 321.5 367.1 323.4 C369.1 325.3 371.1 327.3 373.1 329.5 C375.1 331.7 376.7 333.8 379.2 336.7 C381.7 339.6 386.4 345.1 387.9 346.8" fill="none" stroke="#F4B183" stroke-width="2.00" stroke-linecap="butt" stroke-linejoin="round"/>
<path d="M167.6 308.0 C170.8 308.1 180.5 308.2 186.8 308.6 C193.2 309.0 199.6 310.3 205.7 310.5 C211.8 310.7 216.6 310.1 223.2 310.0 C229.8 309.9 237.3 310.0 245.0 310.0 C252.7 310.0 261.5 310.1 269.1 310.0 C276.8 309.9 283.2 309.2 290.9 309.4 C298.5 309.6 307.4 310.4 315.0 311.4 C322.6 312.4 331.5 314.4 336.8 315.5 C342.1 316.6 344.0 316.7 347.0 317.7 C350.0 318.7 352.7 320.4 355.0 321.6 C357.3 322.9 359.0 323.8 361.0 325.2 C363.0 326.6 365.1 328.3 367.1 330.1 C369.1 331.9 371.1 333.9 373.1 336.1 C375.1 338.3 376.7 340.6 379.2 343.4 C381.7 346.2 386.4 351.2 387.9 352.8" fill="none" stroke="#C9C9C9" stroke-width="2.00" stroke-linecap="butt" stroke-linejoin="round"/>
<path d="M167.6 317.7 C170.8 317.9 180.5 318.8 186.8 319.2 C193.2 319.6 199.6 319.8 205.7 319.9 C211.8 320.0 216.6 319.8 223.2 319.6 C229.8 319.4 238.6 318.8 245.0 318.6 C251.4 318.4 255.9 318.8 261.8 318.5 C267.8 318.2 274.6 317.1 280.7 317.0 C286.8 316.9 292.5 317.4 298.2 317.7 C303.9 318.0 309.7 318.1 315.0 318.9 C320.3 319.7 324.3 321.4 330.0 322.5 C335.7 323.6 344.9 324.6 349.1 325.7 C353.3 326.8 353.0 327.8 355.0 328.9 C357.0 330.0 359.0 331.1 361.0 332.5 C363.0 333.9 365.1 335.5 367.1 337.3 C369.1 339.1 371.1 341.4 373.1 343.4 C375.1 345.4 376.7 346.7 379.2 349.4 C381.7 352.1 386.4 357.8 387.9 359.5" fill="none" stroke="#FFD966" stroke-width="2.00" stroke-linecap="butt" stroke-linejoin="round"/>
<path d="M167.6 328.3 C170.8 328.5 180.0 329.3 186.8 329.4 C193.6 329.5 201.3 329.2 208.6 328.9 C215.9 328.6 224.4 327.9 230.5 327.5 C236.6 327.1 239.8 327.0 245.0 326.8 C250.2 326.6 255.9 326.9 261.8 326.5 C267.8 326.1 274.6 324.8 280.7 324.6 C286.8 324.4 292.5 325.1 298.2 325.4 C303.9 325.7 309.7 325.8 315.0 326.5 C320.3 327.2 324.3 328.5 330.0 329.5 C335.7 330.5 344.9 331.6 349.1 332.7 C353.3 333.8 353.0 334.9 355.0 336.1 C357.0 337.3 359.0 338.3 361.0 339.7 C363.0 341.1 365.1 342.9 367.1 344.6 C369.1 346.3 369.6 346.5 373.1 350.0 C376.6 353.5 385.4 363.0 387.9 365.6" fill="none" stroke="#8FAADC" stroke-width="2.00" stroke-linecap="butt" stroke-linejoin="round"/>
<line x1="174.2" y1="357.1" x2="187.3" y2="357.1" stroke="#BF9000" stroke-width="2.00"/>
<text x="187.9" y="359.1" font-size="7.80" text-anchor="start" fill="#444444" font-weight="bold" textLength="27.8" lengthAdjust="spacingAndGlyphs">x = 0.93</text>
<line x1="225.0" y1="357.1" x2="238.1" y2="357.1" stroke="#2F5597" stroke-width="2.00"/>
<text x="238.7" y="359.1" font-size="7.80" text-anchor="start" fill="#444444" font-weight="bold" textLength="27.8" lengthAdjust="spacingAndGlyphs">x = 0.94</text>
<line x1="275.8" y1="357.1" x2="288.9" y2="357.1" stroke="#548235" stroke-width="2.00"/>
<text x="289.5" y="359.1" font-size="7.80" text-anchor="start" fill="#444444" font-weight="bold" textLength="27.8" lengthAdjust="spacingAndGlyphs">x = 0.95</text>
<line x1="326.6" y1="357.1" x2="339.7" y2="357.1" stroke="#9DC3E6" stroke-width="2.00"/>
<text x="340.3" y="359.1" font-size="7.80" text-anchor="start" fill="#444444" font-weight="bold" textLength="27.8" lengthAdjust="spacingAndGlyphs">x = 0.96</text>
<line x1="174.2" y1="382.8" x2="187.3" y2="382.8" stroke="#F4B183" stroke-width="2.00"/>
<text x="187.9" y="384.8" font-size="7.80" text-anchor="start" fill="#444444" font-weight="bold" textLength="27.8" lengthAdjust="spacingAndGlyphs">x = 0.97</text>
<line x1="225.0" y1="382.8" x2="238.1" y2="382.8" stroke="#C9C9C9" stroke-width="2.00"/>
<text x="238.7" y="384.8" font-size="7.80" text-anchor="start" fill="#444444" font-weight="bold" textLength="27.8" lengthAdjust="spacingAndGlyphs">x = 0.98</text>
<line x1="275.8" y1="382.8" x2="288.9" y2="382.8" stroke="#FFD966" stroke-width="2.00"/>
<text x="289.5" y="384.8" font-size="7.80" text-anchor="start" fill="#444444" font-weight="bold" textLength="27.8" lengthAdjust="spacingAndGlyphs">x = 0.99</text>
<line x1="326.6" y1="382.8" x2="339.7" y2="382.8" stroke="#8FAADC" stroke-width="2.00"/>
<text x="340.3" y="384.8" font-size="7.80" text-anchor="start" fill="#444444" font-weight="bold" textLength="27.8" lengthAdjust="spacingAndGlyphs">x = 1.00</text>
<text x="129.5" y="219.8" font-size="11" text-anchor="middle" fill="#1a1a1a" stroke="#1a1a1a" stroke-width="0.3" style="font-family:'Liberation Serif',serif">(a)</text>
<text x="421.2" y="220.1" font-size="11" text-anchor="middle" fill="#1a1a1a" stroke="#1a1a1a" stroke-width="0.3" style="font-family:'Liberation Serif',serif">(b)</text>
<text x="275.8" y="447.5" font-size="11" text-anchor="middle" fill="#1a1a1a" stroke="#1a1a1a" stroke-width="0.3" style="font-family:'Liberation Serif',serif">(c)</text>
</svg></body></html>
